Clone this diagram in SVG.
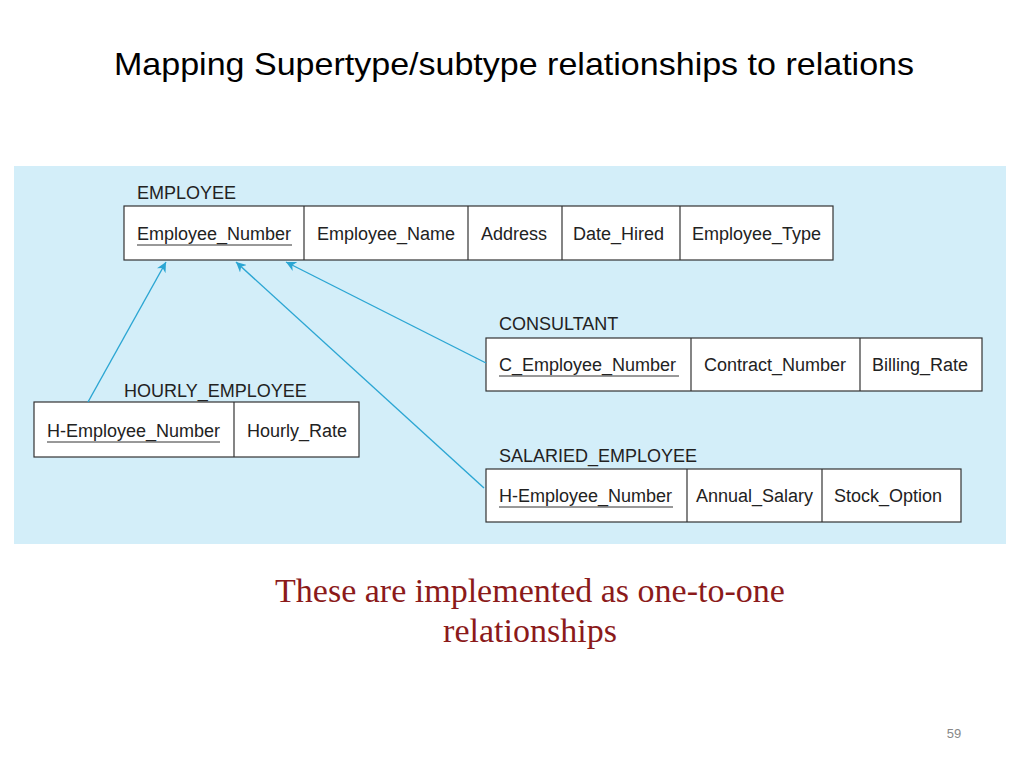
<svg xmlns="http://www.w3.org/2000/svg" width="1024" height="768" viewBox="0 0 1024 768">
<style>
.t{font-family:"Liberation Sans",Arial,sans-serif;font-size:18px;fill:#222}
.lb{font-family:"Liberation Sans",Arial,sans-serif;font-size:18px;fill:#222}
.box{fill:#fff;stroke:#333;stroke-width:1.2}
.div{stroke:#333;stroke-width:1.2}
.ul{stroke:#333;stroke-width:1}
.c{stroke:#2ba6d3;stroke-width:1.4;fill:none;marker-end:url(#a)}
</style>
<defs><marker id="a" viewBox="0 0 10 10" refX="10" refY="5" markerWidth="10" markerHeight="10" markerUnits="userSpaceOnUse" orient="auto"><path d="M0,0L10,5L0,10L3,5Z" fill="#2ba6d3"/></marker></defs>
<rect width="1024" height="768" fill="#fff"/>
<text x="114" y="75" textLength="800" lengthAdjust="spacingAndGlyphs" style="font-family:'Liberation Sans',Arial,sans-serif;font-size:32px;fill:#000">Mapping Supertype/subtype relationships to relations</text>
<rect x="14" y="166" width="992" height="378" fill="#d3eef9"/>
<g id="employee">
<text x="137" y="199" class="lb">EMPLOYEE</text>
<rect x="124" y="206" width="709" height="54" class="box"/>
<line x1="304" y1="206" x2="304" y2="260" class="div"/><line x1="468" y1="206" x2="468" y2="260" class="div"/><line x1="562" y1="206" x2="562" y2="260" class="div"/><line x1="680" y1="206" x2="680" y2="260" class="div"/>
<text x="137" y="240" class="t">Employee_Number</text><line x1="137" y1="245" x2="292" y2="245" class="ul"/>
<text x="317" y="240" class="t">Employee_Name</text><text x="481" y="240" class="t">Address</text><text x="573" y="240" class="t">Date_Hired</text><text x="692" y="240" class="t">Employee_Type</text>
</g>
<g id="consultant">
<text x="499" y="330" class="lb">CONSULTANT</text>
<rect x="486" y="338" width="496" height="53" class="box"/>
<line x1="691" y1="338" x2="691" y2="391" class="div"/><line x1="860" y1="338" x2="860" y2="391" class="div"/>
<text x="499" y="371" class="t">C_Employee_Number</text><line x1="499" y1="376" x2="679" y2="376" class="ul"/>
<text x="704" y="371" class="t">Contract_Number</text><text x="872" y="371" class="t">Billing_Rate</text>
</g>
<g id="hourly">
<text x="124" y="397" class="lb">HOURLY_EMPLOYEE</text>
<rect x="34" y="402" width="325" height="55" class="box"/>
<line x1="234" y1="402" x2="234" y2="457" class="div"/>
<text x="47" y="437" class="t">H-Employee_Number</text><line x1="47" y1="442" x2="220" y2="442" class="ul"/>
<text x="247" y="437" class="t">Hourly_Rate</text>
</g>
<g id="salaried">
<text x="499" y="462" class="lb">SALARIED_EMPLOYEE</text>
<rect x="486" y="469" width="475" height="53" class="box"/>
<line x1="687" y1="469" x2="687" y2="522" class="div"/><line x1="822" y1="469" x2="822" y2="522" class="div"/>
<text x="499" y="502" class="t">H-Employee_Number</text><line x1="499" y1="507" x2="673" y2="507" class="ul"/>
<text x="696" y="502" class="t">Annual_Salary</text><text x="834" y="502" class="t">Stock_Option</text>
</g>
<g id="connectors">
<line x1="88" y1="402" x2="166" y2="262" class="c"/>
<line x1="484" y1="488" x2="236" y2="262" class="c"/>
<line x1="486" y1="363" x2="286" y2="262" class="c"/>
</g>
<text x="530" y="602" text-anchor="middle" style="font-family:'Liberation Serif','Times New Roman',serif;font-size:34px;fill:#8b1a1a">These are implemented as one-to-one</text>
<text x="530" y="642" text-anchor="middle" style="font-family:'Liberation Serif','Times New Roman',serif;font-size:34px;fill:#8b1a1a">relationships</text>
<text x="954" y="738" text-anchor="middle" style="font-family:'Liberation Sans',Arial,sans-serif;font-size:13px;fill:#888">59</text>
</svg>
